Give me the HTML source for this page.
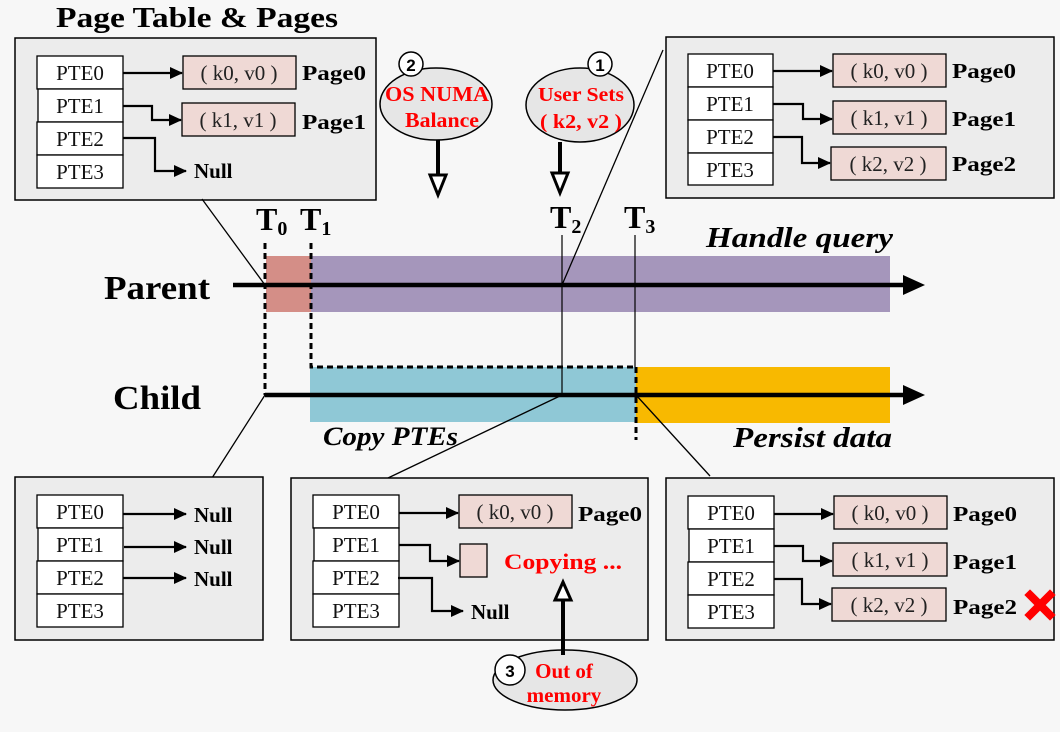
<!DOCTYPE html>
<html><head><meta charset="utf-8"><style>
html,body{margin:0;padding:0;background:#f7f7f7;}
svg{display:block;font-family:"Liberation Serif",serif;}
.pte{font-size:21px;fill:#111;}
.kv{font-size:21px;fill:#222;}
.b{font-weight:bold;font-size:21px;}
.cell{fill:#fff;stroke:#000;stroke-width:1.3;}
.pg{fill:#efd9d5;stroke:#000;stroke-width:1.3;}
.box{fill:#ececec;stroke:#000;stroke-width:1.5;}
.ln{fill:none;stroke:#000;stroke-width:2.2;}
.red{fill:#f00;font-weight:bold;}
</style></head><body>
<svg width="1060" height="732" viewBox="0 0 1060 732" xmlns="http://www.w3.org/2000/svg">
<defs>
<marker id="a" markerWidth="13" markerHeight="12" refX="12" refY="6" orient="auto" markerUnits="userSpaceOnUse"><path d="M0,0 L13,6 L0,12 z" fill="#000"/></marker>
</defs>

<text x="56" y="27" font-size="28" font-weight="bold" textLength="282" lengthAdjust="spacingAndGlyphs">Page Table &amp; Pages</text>

<!-- Top-left box -->
<rect class="box" x="15" y="38" width="361" height="162"/>
<rect class="cell" x="37" y="56" width="86" height="33"/>
<rect class="cell" x="38" y="89" width="85" height="33"/>
<rect class="cell" x="37" y="122" width="86" height="33"/>
<rect class="cell" x="37" y="155" width="86" height="33"/>
<text class="pte" x="80" y="80" text-anchor="middle">PTE0</text>
<text class="pte" x="80" y="113" text-anchor="middle">PTE1</text>
<text class="pte" x="80" y="146" text-anchor="middle">PTE2</text>
<text class="pte" x="80" y="179" text-anchor="middle">PTE3</text>
<rect class="pg" x="183" y="56" width="113" height="33"/>
<rect class="pg" x="182" y="103" width="113" height="33"/>
<text class="kv" x="239" y="80" text-anchor="middle">( k0, v0 )</text>
<text class="kv" x="238" y="127" text-anchor="middle">( k1, v1 )</text>
<text class="b" x="302" y="80" textLength="64" lengthAdjust="spacingAndGlyphs">Page0</text>
<text class="b" x="302" y="129" textLength="64" lengthAdjust="spacingAndGlyphs">Page1</text>
<path class="ln" d="M123,73 H182" marker-end="url(#a)"/>
<path class="ln" d="M123,106 H152 V120 H181" marker-end="url(#a)"/>
<path class="ln" d="M123,138 H155 V171 H186" marker-end="url(#a)"/>
<text class="b" x="194" y="178">Null</text>

<!-- Top-right box -->
<rect class="box" x="666" y="37" width="388" height="161"/>
<rect class="cell" x="688" y="54" width="85" height="33"/>
<rect class="cell" x="688" y="87" width="85" height="33"/>
<rect class="cell" x="688" y="120" width="85" height="33"/>
<rect class="cell" x="688" y="153" width="85" height="32"/>
<text class="pte" x="730" y="78" text-anchor="middle">PTE0</text>
<text class="pte" x="730" y="111" text-anchor="middle">PTE1</text>
<text class="pte" x="730" y="144" text-anchor="middle">PTE2</text>
<text class="pte" x="730" y="177" text-anchor="middle">PTE3</text>
<rect class="pg" x="833" y="54" width="113" height="33"/>
<rect class="pg" x="833" y="101" width="113" height="33"/>
<rect class="pg" x="831" y="147" width="115" height="33"/>
<text class="kv" x="889" y="78" text-anchor="middle">( k0, v0 )</text>
<text class="kv" x="889" y="125" text-anchor="middle">( k1, v1 )</text>
<text class="kv" x="888" y="171" text-anchor="middle">( k2, v2 )</text>
<text class="b" x="952" y="78" textLength="64" lengthAdjust="spacingAndGlyphs">Page0</text>
<text class="b" x="952" y="126" textLength="64" lengthAdjust="spacingAndGlyphs">Page1</text>
<text class="b" x="952" y="171" textLength="64" lengthAdjust="spacingAndGlyphs">Page2</text>
<path class="ln" d="M773,71 H832" marker-end="url(#a)"/>
<path class="ln" d="M773,104 H803 V119 H832" marker-end="url(#a)"/>
<path class="ln" d="M773,137 H802 V163 H830" marker-end="url(#a)"/>

<!-- Ellipses -->
<ellipse cx="436" cy="104" rx="56" ry="36" fill="#e6e6e6" stroke="#000" stroke-width="1.5"/>
<circle cx="411" cy="64" r="12" fill="#fff" stroke="#000" stroke-width="1.5"/>
<text x="411" y="71" font-family="Liberation Sans,sans-serif" font-weight="bold" font-size="17" text-anchor="middle">2</text>
<text class="red" x="437" y="101" font-size="21" text-anchor="middle" textLength="104" lengthAdjust="spacingAndGlyphs">OS NUMA</text>
<text class="red" x="442" y="127" font-size="21" text-anchor="middle" textLength="74" lengthAdjust="spacingAndGlyphs">Balance</text>
<path d="M438,140 V175" stroke="#000" stroke-width="4"/>
<path d="M430,175 L446,175 L438,195 z" fill="#fff" stroke="#000" stroke-width="3"/>

<ellipse cx="580" cy="105" rx="54" ry="37" fill="#e6e6e6" stroke="#000" stroke-width="1.5"/>
<circle cx="600" cy="64" r="12" fill="#fff" stroke="#000" stroke-width="1.5"/>
<text x="600" y="71" font-family="Liberation Sans,sans-serif" font-weight="bold" font-size="17" text-anchor="middle">1</text>
<text class="red" x="581" y="101" font-size="20" text-anchor="middle" textLength="86" lengthAdjust="spacingAndGlyphs">User Sets</text>
<text class="red" x="581" y="128" font-size="20" text-anchor="middle" textLength="82" lengthAdjust="spacingAndGlyphs">( k2, v2 )</text>
<path d="M560,142 V173" stroke="#000" stroke-width="4"/>
<path d="M552,173 L568,173 L560,193 z" fill="#fff" stroke="#000" stroke-width="3"/>

<!-- Timeline bars -->
<rect x="266" y="256" width="45" height="56" fill="#d48e87"/>
<rect x="311" y="256" width="579" height="56" fill="#a596bb"/>
<rect x="310" y="367" width="326" height="55" fill="#8fc8d6"/>
<rect x="636" y="367" width="254" height="56" fill="#f8b900"/>

<text x="256" y="230" font-size="32" font-weight="bold">T<tspan font-size="20" dy="5">0</tspan></text>
<text x="300" y="230" font-size="32" font-weight="bold">T<tspan font-size="20" dy="5">1</tspan></text>
<text x="550" y="228" font-size="32" font-weight="bold">T<tspan font-size="20" dy="5">2</tspan></text>
<text x="624" y="228" font-size="32" font-weight="bold">T<tspan font-size="20" dy="5">3</tspan></text>

<path d="M265,243 V395" stroke="#000" stroke-width="3" stroke-dasharray="6,4"/>
<path d="M311,243 V367 H636" fill="none" stroke="#000" stroke-width="3" stroke-dasharray="6,4"/>
<path d="M636,367 V440" stroke="#000" stroke-width="3" stroke-dasharray="6,4"/>
<path d="M562,235 V395" stroke="#000" stroke-width="1.2"/>
<path d="M635,235 V367" stroke="#000" stroke-width="1.2"/>

<path d="M233,285 H905" stroke="#000" stroke-width="4.5"/>
<path d="M903,275 L925,285 L903,295 z" fill="#000"/>
<path d="M265,395 H905" stroke="#000" stroke-width="4.5"/>
<path d="M903,385 L925,395 L903,405 z" fill="#000"/>

<text x="104" y="299" font-size="34" font-weight="bold" textLength="106" lengthAdjust="spacingAndGlyphs">Parent</text>
<text x="113" y="409" font-size="34" font-weight="bold" textLength="88" lengthAdjust="spacingAndGlyphs">Child</text>
<text x="706" y="247" font-size="28" font-weight="bold" font-style="italic" textLength="187" lengthAdjust="spacingAndGlyphs">Handle query</text>
<text x="323" y="445" font-size="26" font-weight="bold" font-style="italic" textLength="135" lengthAdjust="spacingAndGlyphs">Copy PTEs</text>
<text x="733" y="447" font-size="28" font-weight="bold" font-style="italic" textLength="159" lengthAdjust="spacingAndGlyphs">Persist data</text>

<path d="M202,199 L265,285" stroke="#000" stroke-width="1.3"/>
<path d="M562,285 L663,50" stroke="#000" stroke-width="1.3"/>
<path d="M265,395 L212,478" stroke="#000" stroke-width="1.3"/>
<path d="M562,395 L388,478" stroke="#000" stroke-width="1.3"/>
<path d="M636,395 L710,476" stroke="#000" stroke-width="1.3"/>

<!-- Bottom-left -->
<rect class="box" x="15" y="477" width="248" height="163"/>
<rect class="cell" x="37" y="495" width="86" height="33"/>
<rect class="cell" x="38" y="528" width="85" height="33"/>
<rect class="cell" x="37" y="561" width="86" height="33"/>
<rect class="cell" x="37" y="594" width="86" height="33"/>
<text class="pte" x="80" y="519" text-anchor="middle">PTE0</text>
<text class="pte" x="80" y="552" text-anchor="middle">PTE1</text>
<text class="pte" x="80" y="585" text-anchor="middle">PTE2</text>
<text class="pte" x="80" y="618" text-anchor="middle">PTE3</text>
<path class="ln" d="M123,514 H186" marker-end="url(#a)"/>
<path class="ln" d="M124,547 H186" marker-end="url(#a)"/>
<path class="ln" d="M123,578 H186" marker-end="url(#a)"/>
<text class="b" x="194" y="522">Null</text>
<text class="b" x="194" y="554">Null</text>
<text class="b" x="194" y="586">Null</text>

<!-- Bottom-middle -->
<rect class="box" x="291" y="478" width="357" height="162"/>
<rect class="cell" x="313" y="495" width="86" height="33"/>
<rect class="cell" x="314" y="528" width="85" height="33"/>
<rect class="cell" x="313" y="561" width="86" height="33"/>
<rect class="cell" x="313" y="594" width="86" height="33"/>
<text class="pte" x="356" y="519" text-anchor="middle">PTE0</text>
<text class="pte" x="356" y="552" text-anchor="middle">PTE1</text>
<text class="pte" x="356" y="585" text-anchor="middle">PTE2</text>
<text class="pte" x="356" y="618" text-anchor="middle">PTE3</text>
<rect class="pg" x="459" y="495" width="113" height="33"/>
<text class="kv" x="515" y="519" text-anchor="middle">( k0, v0 )</text>
<text class="b" x="578" y="521" textLength="64" lengthAdjust="spacingAndGlyphs">Page0</text>
<rect class="pg" x="460" y="544" width="27" height="33"/>
<text class="red" x="504" y="569" font-size="22" textLength="118" lengthAdjust="spacingAndGlyphs">Copying ...</text>
<path class="ln" d="M399,513 H458" marker-end="url(#a)"/>
<path class="ln" d="M399,545 H430 V561 H459" marker-end="url(#a)"/>
<path class="ln" d="M398,578 H432 V611 H463" marker-end="url(#a)"/>
<text class="b" x="471" y="619">Null</text>

<ellipse cx="565" cy="680" rx="72" ry="30" fill="#e6e6e6" stroke="#000" stroke-width="1.5"/>
<circle cx="510" cy="670" r="15" fill="#fff" stroke="#000" stroke-width="1.5"/>
<text x="510" y="677" font-family="Liberation Sans,sans-serif" font-weight="bold" font-size="17" text-anchor="middle">3</text>
<text class="red" x="564" y="678" font-size="21" text-anchor="middle">Out of</text>
<text class="red" x="564" y="702" font-size="21" text-anchor="middle">memory</text>
<path d="M563,655 V600" stroke="#000" stroke-width="4"/>
<path d="M555,600 L571,600 L563,582 z" fill="#fff" stroke="#000" stroke-width="3"/>

<!-- Bottom-right -->
<rect class="box" x="666" y="478" width="388" height="162"/>
<rect class="cell" x="688" y="496" width="86" height="33"/>
<rect class="cell" x="689" y="529" width="85" height="33"/>
<rect class="cell" x="688" y="562" width="86" height="33"/>
<rect class="cell" x="688" y="595" width="86" height="33"/>
<text class="pte" x="731" y="520" text-anchor="middle">PTE0</text>
<text class="pte" x="731" y="553" text-anchor="middle">PTE1</text>
<text class="pte" x="731" y="586" text-anchor="middle">PTE2</text>
<text class="pte" x="731" y="619" text-anchor="middle">PTE3</text>
<rect class="pg" x="834" y="496" width="113" height="33"/>
<rect class="pg" x="833" y="543" width="114" height="33"/>
<rect class="pg" x="832" y="588" width="114" height="33"/>
<text class="kv" x="890" y="520" text-anchor="middle">( k0, v0 )</text>
<text class="kv" x="890" y="567" text-anchor="middle">( k1, v1 )</text>
<text class="kv" x="889" y="612" text-anchor="middle">( k2, v2 )</text>
<text class="b" x="953" y="521" textLength="64" lengthAdjust="spacingAndGlyphs">Page0</text>
<text class="b" x="953" y="569" textLength="64" lengthAdjust="spacingAndGlyphs">Page1</text>
<text class="b" x="953" y="614" textLength="64" lengthAdjust="spacingAndGlyphs">Page2</text>
<path class="ln" d="M774,514 H833" marker-end="url(#a)"/>
<path class="ln" d="M774,546 H803 V561 H832" marker-end="url(#a)"/>
<path class="ln" d="M774,579 H802 V604 H831" marker-end="url(#a)"/>
<path d="M1030,595 L1050,615 M1050,595 L1030,615" stroke="#f00" stroke-width="8" stroke-linecap="square"/>
</svg>
</body></html>
